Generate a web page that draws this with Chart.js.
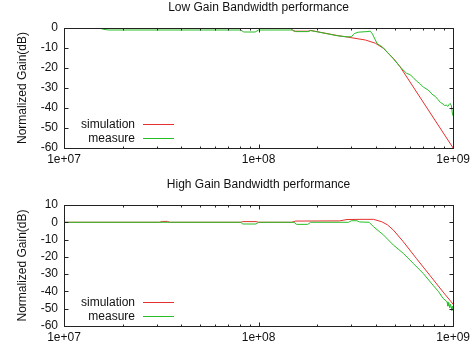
<!DOCTYPE html>
<html>
<head>
<meta charset="utf-8">
<script src="https://cdn.jsdelivr.net/npm/chart.js@4/dist/chart.umd.min.js"></script>
<style>
html,body{margin:0;padding:0;background:#fff;}
canvas{display:block;}
</style>
</head>
<body>
<canvas id="c1" width="474" height="177"></canvas>
<canvas id="c2" width="474" height="178"></canvas>
<script>
// ---- data ----
const xTickValues = [1e7, 1e8, 1e9];
const lowYTicks = [-60, -50, -40, -30, -20, -10, 0];
const highYTicks = [-60, -50, -40, -30, -20, -10, 0, 10];
const seriesLabels = ['simulation', 'measure'];
const titles = ['Low Gain Bandwidth performance', 'High Gain Bandwidth performance'];
const yAxisTitle = 'Normalized Gain(dB)';

const lowSimFreq = [1e7, 1.45e8, 1.52e8, 1.80e8, 1.85e8, 2.55e8, 2.85e8, 3.54e8, 3.98e8, 4.39e8, 4.93e8, 5.33e8, 1e9];
const lowSimGain = [0, 0, -1.6, -1.6, -1.2, -3.8, -4.5, -6.0, -7.6, -10.2, -15.2, -19.3, -60];

const lowMeasFreq = [1.52e7, 1.6e7, 1.7e7, 8.1e7, 8.4e7, 9.6e7, 1.0e8, 1.5e8, 1.55e8, 1.79e8, 1.85e8, 2.0e8, 2.55e8, 2.85e8, 3.0e8, 3.1e8, 3.25e8, 3.6e8, 3.75e8, 3.85e8, 4.06e8, 4.39e8, 4.6e8, 4.93e8, 5.33e8, 5.6e8, 5.77e8, 6.0e8, 6.24e8, 6.48e8, 6.74e8, 7.02e8, 7.44e8, 7.88e8, 8.1e8, 8.36e8, 8.6e8, 8.87e8, 9.05e8, 9.21e8, 9.4e8, 9.5e8, 9.66e8, 9.8e8, 9.9e8, 1e9];
const lowMeasGain = [0, -0.7, -1.0, -1.0, -2.0, -2.0, -1.0, -1.0, -1.8, -1.8, -1.3, -1.9, -3.9, -4.4, -4.4, -2.8, -2.1, -1.8, -1.6, -3.0, -7.7, -10.0, -12.3, -15.4, -19.3, -21.5, -22.7, -23.3, -24.8, -26.5, -27.8, -29.5, -31.0, -33.5, -34.2, -35.8, -37.2, -38.0, -38.8, -38.5, -39.2, -38.4, -37.7, -39.0, -42.5, -44.0];

const highSimFreq = [1e7, 3.1e7, 3.2e7, 3.4e7, 3.5e7, 8.1e7, 8.3e7, 9.7e7, 1.0e8, 1.48e8, 1.55e8, 2.6e8, 2.85e8, 3.4e8, 3.9e8, 4.3e8, 4.6e8, 4.93e8, 5.55e8, 6.48e8, 7.58e8, 8.87e8, 9.77e8, 1e9];
const highSimGain = [0, 0, 0.5, 0.5, 0, 0, 0.4, 0.4, 0, 0, 0.7, 0.8, 1.6, 1.7, 1.7, 0.3, -1.5, -4.5, -11.3, -21.0, -30.6, -40.3, -46.0, -47.5];

const highMeasFreq = [1e7, 8.1e7, 8.3e7, 9.7e7, 1.0e8, 1.52e8, 1.57e8, 1.79e8, 1.85e8, 2.9e8, 3.0e8, 3.2e8, 3.3e8, 3.7e8, 3.9e8, 4.39e8, 4.93e8, 5.55e8, 6.24e8, 7.02e8, 7.88e8, 8.4e8, 8.87e8, 9.2e8, 9.3e8, 9.4e8, 9.5e8, 9.6e8, 9.7e8, 9.77e8, 9.85e8, 9.9e8, 1e9];
const highMeasGain = [0, 0, -1.0, -1.0, 0, 0, -1.2, -1.2, 0, 0, 0.9, 0.9, 0.2, 0, -2.6, -7.4, -13.2, -18.0, -23.8, -29.6, -36.4, -40.0, -44.0, -45.5, -46.0, -48.5, -46.5, -49.5, -47.5, -49.0, -51.0, -48.5, -50.0];

const simColor = 'rgb(228,48,48)';
const measColor = 'rgb(40,190,40)';

// ---- helpers ----
function zip(xs, ys) { return xs.map((x, i) => ({ x: x, y: ys[i] })); }
function fmtExp(v) {
  return v.toExponential().replace(/e([+-])(\d)$/, 'e$10$2');
}
const FONT = '"Liberation Sans", Arial, sans-serif';

const framePlugin = {
  id: 'frame',
  afterDatasetsDraw(chart) {
    const ctx = chart.ctx;
    const a = chart.chartArea;
    const xs = chart.scales.x, ys = chart.scales.y;
    const L = Math.round(a.left) + 0.5, R = Math.round(a.right) + 0.5;
    const T = Math.round(a.top) + 0.5, B = Math.round(a.bottom) + 0.5;
    ctx.save();
    ctx.strokeStyle = '#222';
    ctx.lineWidth = 1;
    ctx.beginPath();
    // y ticks (inward, mirrored)
    ys.ticks.forEach(t => {
      const y = Math.round(ys.getPixelForValue(t.value)) + 0.5;
      ctx.moveTo(L, y); ctx.lineTo(L + 4, y);
      ctx.moveTo(R, y); ctx.lineTo(R - 4, y);
    });
    // x ticks: majors at decades, minors 2..9
    const lo = Math.log10(xTickValues[0]), hi = Math.log10(xTickValues[xTickValues.length - 1]);
    for (let d = lo; d <= hi; d++) {
      for (let k = 1; k <= 9; k++) {
        const v = k * Math.pow(10, d);
        if (v > xTickValues[xTickValues.length - 1] * 1.0001) break;
        const x = Math.round(xs.getPixelForValue(v)) + 0.5;
        const len = k === 1 ? 4 : 2;
        ctx.moveTo(x, B); ctx.lineTo(x, B - len);
        ctx.moveTo(x, T); ctx.lineTo(x, T + len);
      }
    }
    ctx.stroke();
    ctx.strokeRect(L, T, R - L, B - T);
    // legend (gnuplot style: text right-aligned, sample line to the right)
    ctx.font = '12px ' + FONT;
    ctx.fillStyle = '#111';
    ctx.textAlign = 'right';
    ctx.textBaseline = 'middle';
    const rows = [a.bottom - 24, a.bottom - 10];
    chart.data.datasets.forEach((ds, i) => {
      const y = Math.round(rows[i]) + 0.5;
      ctx.fillText(ds.label, 135, y);
      ctx.strokeStyle = ds.borderColor;
      ctx.beginPath();
      ctx.moveTo(143, y); ctx.lineTo(174, y);
      ctx.stroke();
    });
    ctx.restore();
  }
};

function makeChart(id, title, yTicks, simF, simG, measF, measG) {
  return new Chart(document.getElementById(id), {
    type: 'line',
    data: {
      datasets: [
        { label: seriesLabels[0], data: zip(simF, simG), borderColor: simColor, borderWidth: 1, pointRadius: 0, tension: 0, order: 1 },
        { label: seriesLabels[1], data: zip(measF, measG), borderColor: measColor, borderWidth: 1, pointRadius: 0, tension: 0, order: 0 }
      ]
    },
    options: {
      responsive: false,
      animation: false,
      devicePixelRatio: 1,
      layout: { padding: { left: 0, right: 17, top: 0, bottom: 0 } },
      plugins: {
        legend: { display: false },
        tooltip: { enabled: false },
        title: {
          display: true, text: title, fullSize: false,
          color: '#111', font: { family: FONT, size: 12, weight: 'normal' },
          padding: { top: 0, bottom: 13.6 }
        }
      },
      scales: {
        x: {
          type: 'logarithmic',
          min: xTickValues[0], max: xTickValues[xTickValues.length - 1],
          afterBuildTicks: s => { s.ticks = xTickValues.map(v => ({ value: v })); },
          afterFit: s => { s.height = 29; },
          grid: { display: false, drawTicks: false },
          border: { display: false },
          ticks: {
            autoSkip: false, maxRotation: 0, padding: 4,
            color: '#111', font: { family: FONT, size: 12 },
            callback: v => fmtExp(v)
          }
        },
        y: {
          type: 'linear',
          min: yTicks[0], max: yTicks[yTicks.length - 1],
          afterBuildTicks: s => { s.ticks = yTicks.map(v => ({ value: v })); },
          afterFit: s => { s.width = 64; },
          grid: { display: false, drawTicks: false },
          border: { display: false },
          ticks: { autoSkip: false, padding: 6, color: '#111', font: { family: FONT, size: 12 } },
          title: {
            display: true, text: yAxisTitle, color: '#111',
            font: { family: FONT, size: 12 }, padding: { top: 15, bottom: 0 }
          }
        }
      }
    },
    plugins: [framePlugin]
  });
}

makeChart('c1', titles[0], lowYTicks, lowSimFreq, lowSimGain, lowMeasFreq, lowMeasGain);
makeChart('c2', titles[1], highYTicks, highSimFreq, highSimGain, highMeasFreq, highMeasGain);
</script>
</body>
</html>
